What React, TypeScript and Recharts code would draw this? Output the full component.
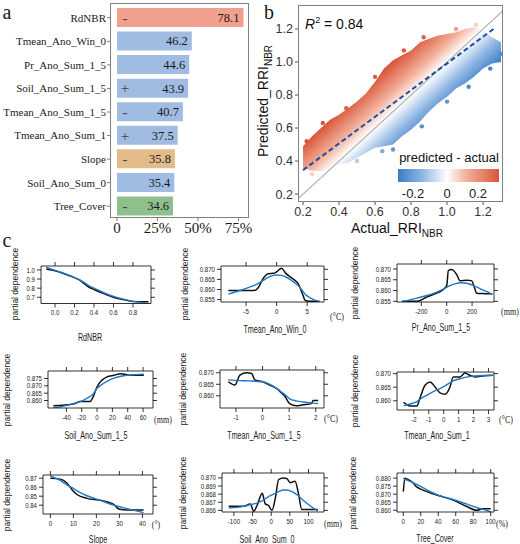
import React from 'react';
import {
  BarChart, Bar, XAxis, YAxis, LabelList, Cell,
  ComposedChart, Area, Line, Scatter, ReferenceLine, LineChart,
} from 'recharts';

const SERIF = '"Liberation Serif", "Times New Roman", serif';
const SANS = '"Liberation Sans", Arial, sans-serif';

// ---- panel a: variable importance ----
const features = ['RdNBR', 'Tmean_Ano_Win_0', 'Pr_Ano_Sum_1_5', 'Soil_Ano_Sum_1_5', 'Tmean_Ano_Sum_1_5', 'Tmean_Ano_Sum_1', 'Slope', 'Soil_Ano_Sum_0', 'Tree_Cover'];
const importance = [78.1, 46.2, 44.6, 43.9, 40.7, 37.5, 35.8, 35.4, 34.6];
const effectSign = ['-', '', '', '+', '-', '+', '-', '', '-'];
const featureGroup = ['fire', 'climate', 'climate', 'climate', 'climate', 'climate', 'topo', 'climate', 'veg'];
const importanceTicks = [0, 25, 50, 75];

// ---- panel b: predicted vs actual ----
const bandX = [0.2, 0.25, 0.3, 0.35, 0.4, 0.45, 0.5, 0.55, 0.6, 0.65, 0.7, 0.75, 0.8, 0.85, 0.9, 0.95, 1.0, 1.05, 1.1, 1.15, 1.2, 1.25, 1.3];
const bandLow = [0.36, 0.34, 0.34, 0.36, 0.38, 0.39, 0.42, 0.45, 0.48, 0.49, 0.5, 0.55, 0.59, 0.64, 0.7, 0.75, 0.79, 0.84, 0.87, 0.91, 0.96, 0.99, 1.0];
const bandHigh = [0.49, 0.55, 0.6, 0.65, 0.68, 0.72, 0.76, 0.81, 0.88, 0.96, 1.01, 1.04, 1.07, 1.12, 1.14, 1.16, 1.17, 1.18, 1.2, 1.21, 1.19, 1.15, 1.12];
const edgeX = [0.22, 0.31, 0.44, 0.6, 0.76, 0.87, 1.05, 1.16, 0.25, 0.29, 0.5, 0.64, 0.7, 0.86, 1.0, 1.12, 1.24, 1.3];
const edgeY = [0.52, 0.63, 0.72, 0.91, 1.07, 1.15, 1.2, 1.225, 0.32, 0.31, 0.4, 0.46, 0.47, 0.61, 0.76, 0.85, 0.96, 1.05];
const fitX = [0.2, 1.265];
const fitY = [0.345, 1.205];
const actualTicks = [0.2, 0.4, 0.6, 0.8, 1.0, 1.2];
const residTicks = ['-0.2', '0', '0.2'];

// ---- panel c: partial dependence ----
const rdnbrX = [-0.09, 0, 0.1, 0.2, 0.25, 0.3, 0.35, 0.4, 0.5, 0.6, 0.7, 0.8, 0.9, 0.96];
const rdnbrPD = [1.01, 0.99, 0.955, 0.915, 0.89, 0.85, 0.81, 0.785, 0.74, 0.7, 0.675, 0.655, 0.65, 0.65];
const rdnbrFit = [1.03, 0.995, 0.96, 0.915, 0.89, 0.86, 0.825, 0.8, 0.75, 0.71, 0.68, 0.655, 0.64, 0.628];

const tWinX = [-7.9, -6, -4, -3.5, -3, -2.2, -1.4, -0.5, 0, 0.8, 1.5, 2.2, 3, 3.5, 4.2, 4.7, 5.4, 7.0];
const tWinPD = [0.8595, 0.8595, 0.8595, 0.8596, 0.861, 0.8655, 0.8678, 0.868, 0.8688, 0.8705, 0.868, 0.8663, 0.8645, 0.863, 0.858, 0.8545, 0.8542, 0.8542];
const tWinFit = [0.8577, 0.8595, 0.8617, 0.8622, 0.863, 0.8645, 0.866, 0.867, 0.8672, 0.867, 0.8662, 0.865, 0.8632, 0.862, 0.8595, 0.8575, 0.856, 0.8538];

const prX = [-353, -300, -235, -157, -78, -39, 0, 13, 39, 78, 105, 157, 196, 222, 235, 280, 340, 360];
const prPD = [0.855, 0.855, 0.855, 0.857, 0.8588, 0.86, 0.8623, 0.8692, 0.8698, 0.8675, 0.8646, 0.8648, 0.8646, 0.8608, 0.8588, 0.8586, 0.8585, 0.8584];
const prFit = [0.8548, 0.8555, 0.8565, 0.8577, 0.8593, 0.8603, 0.8615, 0.8619, 0.8626, 0.8633, 0.8636, 0.8634, 0.8627, 0.862, 0.8617, 0.8604, 0.8588, 0.8582];

const soil15X = [-57, -45, -30, -22, -15, -9, -5, 0, 6.5, 13, 22, 31, 39, 50, 61];
const soil15PD = [0.8564, 0.8568, 0.8577, 0.8593, 0.8593, 0.8593, 0.8627, 0.8694, 0.8739, 0.8761, 0.8772, 0.8783, 0.8776, 0.8772, 0.8772];
const soil15Fit = [0.8549, 0.856, 0.858, 0.8593, 0.861, 0.8628, 0.8645, 0.8683, 0.871, 0.873, 0.8752, 0.8765, 0.8772, 0.8776, 0.8779];

const tSum15X = [-1.29, -1.04, -0.85, -0.6, -0.41, -0.29, 0, 0.27, 0.59, 0.65, 0.84, 1.02, 1.27, 1.52, 1.84, 1.9, 2.09];
const tSum15PD = [0.8661, 0.8647, 0.869, 0.87, 0.8697, 0.8669, 0.8661, 0.8647, 0.8626, 0.8619, 0.8598, 0.8566, 0.8557, 0.8561, 0.8566, 0.858, 0.858];
const tSum15Fit = [0.8669, 0.8667, 0.8666, 0.8665, 0.8664, 0.8663, 0.8661, 0.865, 0.8628, 0.8622, 0.8605, 0.8587, 0.8578, 0.8573, 0.8569, 0.8568, 0.8566];

const tSum1X = [-2.69, -2.25, -1.8, -1.58, -1.25, -0.91, -0.58, -0.25, 0.09, 0.42, 0.64, 1.09, 1.42, 1.75, 2.09, 2.7, 3.31];
const tSum1PD = [0.8594, 0.8581, 0.8581, 0.8612, 0.8657, 0.8669, 0.8651, 0.8629, 0.8624, 0.8651, 0.8688, 0.8688, 0.8702, 0.8694, 0.8688, 0.8692, 0.8694];
const tSum1Fit = [0.8581, 0.8588, 0.8597, 0.8606, 0.8617, 0.8627, 0.8637, 0.8645, 0.8655, 0.8666, 0.8673, 0.8681, 0.8686, 0.8689, 0.8691, 0.8693, 0.8694];

const slopeX = [0, 4.3, 7.2, 9.4, 11.6, 15.9, 21.7, 27.5, 29.7, 33.3, 40.5];
const slopePD = [0.87, 0.869, 0.8646, 0.8573, 0.8519, 0.8476, 0.8454, 0.841, 0.8357, 0.8346, 0.8346];
const slopeFit = [0.8725, 0.8675, 0.8627, 0.8595, 0.856, 0.8505, 0.8454, 0.84, 0.8385, 0.8362, 0.8317];

const soil0X = [-114, -74, -56, -47, -38, -24, -16, -7, 2, 11, 20, 33, 42, 51, 64, 73, 82, 125];
const soil0PD = [0.8665, 0.8665, 0.8668, 0.8659, 0.8666, 0.8681, 0.8668, 0.8666, 0.866, 0.8675, 0.8698, 0.87, 0.8699, 0.8694, 0.8696, 0.8681, 0.8661, 0.8661];
const soil0Fit = [0.8663, 0.8665, 0.8667, 0.8668, 0.8669, 0.8672, 0.8674, 0.8677, 0.8679, 0.8681, 0.8683, 0.8685, 0.8685, 0.8684, 0.8681, 0.8678, 0.8674, 0.8659];

const treeX = [0, 1.9, 5.7, 9.5, 15, 27, 42, 57, 72, 84, 91.5, 100];
const treePD = [0.8716, 0.88, 0.879, 0.8779, 0.8747, 0.8716, 0.8689, 0.8663, 0.8625, 0.86, 0.861, 0.861];
const treeFit = [0.88, 0.8794, 0.8785, 0.8776, 0.8762, 0.8727, 0.869, 0.8667, 0.864, 0.8617, 0.8605, 0.8589];

const groupColor: Record<string, string> = { fire: '#F0A08C', climate: '#A0BCE2', topo: '#E4BC8C', veg: '#8DC08D' };

// diverging colours for predicted - actual
const residStops: [number, string][] = [[-0.3, '#3a7cc7'], [-0.15, '#8fb6e3'], [0, '#ffffff'], [0.12, '#f2ae98'], [0.3, '#d9573a']];
const hex = (c: string) => [1, 3, 5].map((i) => parseInt(c.slice(i, i + 2), 16));
const resColor = (r: number) => {
  if (r <= residStops[0][0]) return residStops[0][1];
  for (let i = 1; i < residStops.length; i++) {
    const [r1, c1] = residStops[i];
    const [r0, c0] = residStops[i - 1];
    if (r <= r1) {
      const t = (r - r0) / (r1 - r0);
      const a = hex(c0), b = hex(c1);
      return `rgb(${a.map((v, k) => Math.round(v + (b[k] - v) * t)).join(',')})`;
    }
  }
  return residStops[residStops.length - 1][1];
};

const Txt = ({ x, y, size = 10, family = SANS, squeeze = 1, rotate = 0, color = '#1a1a1a', children, style = {} }: any) => (
  <div style={{
    position: 'absolute', left: x, top: y, whiteSpace: 'nowrap', fontSize: size, fontFamily: family, lineHeight: 1, color,
    transform: `translate(-50%,-50%) rotate(${rotate}deg) scaleX(${squeeze})`, ...style,
  }}>{children}</div>
);

const ImportancePanel = () => {
  const rows = features.map((f, i) => ({ name: f, value: importance[i], sign: effectSign[i], group: featureGroup[i] }));
  const valueLabel = (p: any) => (
    <text x={p.x + p.width - 4} y={p.y + p.height / 2} dy="0.35em" textAnchor="end" fontFamily={SERIF} fontSize={12.5} fill="#1a1a1a">
      {Number(p.value).toFixed(1)}
    </text>
  );
  const signLabel = (p: any) => (p.value ? (
    <text x={p.x + 8} y={p.y + p.height / 2} dy="0.35em" textAnchor="middle" fontFamily={SERIF} fontSize={15} fill="#444">{p.value}</text>
  ) : <g />);
  return (
    <div style={{ position: 'absolute', left: 0, top: 0 }}>
      <BarChart layout="vertical" width={260} height={240} data={rows} margin={{ top: 3, right: 11, bottom: 0, left: 0 }} barSize={19}>
        <XAxis type="number" domain={[-4.3, 81.5]} allowDataOverflow ticks={importanceTicks} interval={0} height={22} tickSize={3} tickMargin={1}
          axisLine={false} stroke="#7f7f7f" tickFormatter={(v) => (v === 0 ? '0' : `${v}%`)}
          tick={{ fontFamily: SERIF, fontSize: 15, fill: '#1a1a1a' }} />
        <YAxis type="category" dataKey="name" width={110} interval={0} tickSize={3} tickMargin={1} axisLine={false} stroke="#7f7f7f"
          padding={{ top: 3, bottom: 0 }} tick={{ fontFamily: SERIF, fontSize: 11, fill: '#1a1a1a' }} />
        <Bar dataKey="value" isAnimationActive={false}>
          {rows.map((r, i) => <Cell key={i} fill={groupColor[r.group]} />)}
          <LabelList dataKey="value" content={valueLabel} />
          <LabelList dataKey="sign" content={signLabel} />
        </Bar>
      </BarChart>
      <div style={{ position: 'absolute', left: 110, top: 3, width: 139, height: 215, border: '1.3px solid #808080', boxSizing: 'border-box' }} />
      <Txt x={7} y={12} size={20} family={SERIF}>a</Txt>
    </div>
  );
};

const ScatterPanel = () => {
  const W = 280, H = 240, M = { top: 5, right: 17, bottom: 0, left: 0 }, YW = 58, XH = 38;
  const xDom = [0.172, 1.311], yDom = [0.152, 1.345];
  const pw = W - M.right - YW, ph = H - M.top - XH;
  const kx = pw / (xDom[1] - xDom[0]), ky = ph / (yDom[1] - yDom[0]);
  const px = (x: number) => YW + (x - xDom[0]) * kx;
  const py = (y: number) => M.top + (yDom[1] - y) * ky;
  const norm = Math.hypot(kx, ky);
  const ux = -ky / norm, uy = -kx / norm;
  const per = (kx * ky) / norm;
  const cx = px(0.75), cy = py(0.75);
  const band = bandX.map((x, i) => ({ x, band: [bandLow[i], bandHigh[i]] }));
  const edges = edgeX.map((x, i) => ({ x, y: edgeY[i] }));
  const fit = fitX.map((x, i) => ({ x, y: fitY[i] }));
  const dot = (p: any) => <circle cx={p.cx} cy={p.cy} r={2.2} fill={resColor(p.payload.y - p.payload.x)} />;
  const tick = { fontFamily: SANS, fontSize: 12.5, fill: '#333' };
  return (
    <div style={{ position: 'absolute', left: 240, top: 0 }}>
      <ComposedChart width={W} height={H} margin={M}>
        <defs>
          <linearGradient id="residGrad" gradientUnits="userSpaceOnUse"
            x1={cx - ux * per * 0.3} y1={cy - uy * per * 0.3} x2={cx + ux * per * 0.3} y2={cy + uy * per * 0.3}>
            {residStops.map(([r, c]) => <stop key={r} offset={(r + 0.3) / 0.6} stopColor={c} />)}
          </linearGradient>
        </defs>
        <XAxis dataKey="x" type="number" domain={xDom} allowDataOverflow ticks={actualTicks} interval={0} height={XH} tickSize={3} tickMargin={2}
          axisLine={false} stroke="#555" tick={tick} tickFormatter={(v) => v.toFixed(1)} />
        <YAxis type="number" domain={yDom} allowDataOverflow ticks={actualTicks} interval={0} width={YW} tickSize={3} tickMargin={2}
          axisLine={false} stroke="#555" tick={tick} tickFormatter={(v) => v.toFixed(1)} />
        <Area data={band} dataKey="band" type="linear" stroke="none" fill="url(#residGrad)" fillOpacity={1} isAnimationActive={false} />
        <Scatter data={edges} dataKey="y" shape={dot} isAnimationActive={false} />
        <ReferenceLine segment={[{ x: xDom[0], y: xDom[0] }, { x: xDom[1], y: xDom[1] }]} stroke="#b0b0b0" strokeWidth={1.2} ifOverflow="hidden" />
        <Line data={fit} dataKey="y" type="linear" stroke="#1d4f9c" strokeWidth={2} strokeDasharray="5 3" dot={false} isAnimationActive={false} />
      </ComposedChart>
      <div style={{ position: 'absolute', left: YW, top: M.top, width: pw, height: ph, border: '1.3px solid #808080', boxSizing: 'border-box' }} />
      <Txt x={29} y={12} size={20} family={SERIF}>b</Txt>
      <div style={{ position: 'absolute', left: 65, top: 15, fontFamily: SANS, fontSize: 14, color: '#111', whiteSpace: 'nowrap' }}>
        <i>R</i><sup style={{ fontSize: 9 }}>2</sup> = 0.84
      </div>
      <Txt x={23} y={101} size={14} rotate={-90} color="#111">
        Predicted_RRI<span style={{ fontSize: 10, position: 'relative', top: 4 }}>NBR</span>
      </Txt>
      <Txt x={157} y={228} size={14} color="#111">
        Actual_RRI<span style={{ fontSize: 10, position: 'relative', top: 4 }}>NBR</span>
      </Txt>
      <Txt x={209} y={157} size={13} color="#111">predicted - actual</Txt>
      <div style={{
        position: 'absolute', left: 158, top: 169, width: 101, height: 13,
        background: 'linear-gradient(to right, #3a7cc7 0%, #8fb6e3 24%, #ffffff 48.5%, #f2ae98 68%, #d9573a 100%)',
      }} />
      {residTicks.map((t, i) => (
        <Txt key={t} x={[173, 207, 238][i]} y={193} size={13} color="#222">{t}</Txt>
      ))}
    </div>
  );
};

const sqTick = (p: any, axis: 'x' | 'y', digits: number, size: number) => (
  <g transform={`translate(${p.x},${p.y})`}>
    <text transform={`scale(${6.1 / size},1)`} textAnchor={axis === 'x' ? 'middle' : 'end'} dy={axis === 'x' ? '0.71em' : '0.33em'}
      fontSize={size} fontFamily={SANS} fill="#222">{Number(p.payload.value).toFixed(digits)}</text>
  </g>
);
const noTick = () => <g />;

const pdLayout = [
  { left: 41, top: 265.5, w: 110, h: 37.5, xDom: [-0.144, 0.985], yDom: [0.632, 1.043], xTicks: [0, 0.2, 0.4, 0.6, 0.8], yTicks: [0.7, 0.8, 0.9, 1.0], xd: 1, yd: 1, fs: 8, title: 'RdNBR', tx: 90, ty: 337, unit: '', ux: 0, uy: 0, lx: 15 },
  { left: 221, top: 266, w: 103, h: 36, xDom: [-9.1, 7.75], yDom: [0.8538, 0.87165], xTicks: [-5, 0, 5], yTicks: [0.855, 0.86, 0.865, 0.87], xd: 0, yd: 3, fs: 8, title: 'Tmean_Ano_Win_0', tx: 275, ty: 329, unit: '(°C)', ux: 337, uy: 317, lx: 185 },
  { left: 397, top: 263.5, w: 97, h: 38, xDom: [-392, 373], yDom: [0.8547, 0.8723], xTicks: [-200, 0, 200], yTicks: [0.855, 0.86, 0.865, 0.87], xd: 0, yd: 3, fs: 8, title: 'Pr_Ano_Sum_1_5', tx: 441, ty: 327, unit: '(mm)', ux: 510, uy: 312, lx: 355 },
  { left: 48, top: 371, w: 105, h: 37, xDom: [-64, 73], yDom: [0.8549, 0.8801], xTicks: [-40, -20, 0, 20, 40, 60], yTicks: [0.86, 0.865, 0.87, 0.875], xd: 0, yd: 3, fs: 7.2, title: 'Soil_Ano_Sum_1_5', tx: 96, ty: 435, unit: '(mm)', ux: 163, uy: 420, lx: 7 },
  { left: 220, top: 370, w: 104, h: 38, xDom: [-1.6, 2.31], yDom: [0.8547, 0.8712], xTicks: [-1, 0, 1, 2], yTicks: [0.86, 0.865, 0.87], xd: 0, yd: 3, fs: 8, title: 'Tmean_Ano_Sum_1_5', tx: 264, ty: 435, unit: '(°C)', ux: 331, uy: 419, lx: 183 },
  { left: 397, top: 372, w: 97, h: 38, xDom: [-3.13, 3.37], yDom: [0.8566, 0.8706], xTicks: [-2, -1, 0, 1, 2, 3], yTicks: [0.86, 0.865, 0.87], xd: 0, yd: 3, fs: 8, title: 'Tmean_Ano_Sum_1', tx: 437, ty: 435, unit: '(°C)', ux: 506, uy: 420, lx: 355 },
  { left: 43, top: 475, w: 110, h: 39, xDom: [-3.2, 44.6], yDom: [0.8302, 0.8736], xTicks: [0, 10, 20, 30, 40], yTicks: [0.84, 0.85, 0.86, 0.87], xd: 0, yd: 2, fs: 8, title: 'Slope', tx: 98, ty: 539, unit: '(°)', ux: 156, uy: 525, lx: 7 },
  { left: 222, top: 473, w: 102, h: 39, xDom: [-132, 141.6], yDom: [0.8658, 0.8706], xTicks: [-100, -50, 0, 50, 100], yTicks: [0.866, 0.867, 0.868, 0.869, 0.87], xd: 0, yd: 3, fs: 7.6, title: 'Soil_Ano_Sum_0', tx: 267, ty: 539, unit: '(mm)', ux: 333, uy: 524, lx: 183 },
  { left: 397, top: 473, w: 97, h: 39, xDom: [-7.2, 103.8], yDom: [0.8589, 0.8832], xTicks: [0, 20, 40, 60, 80, 100], yTicks: [0.86, 0.865, 0.87, 0.875, 0.88], xd: 0, yd: 3, fs: 7.6, title: 'Tree_Cover', tx: 435, ty: 538, unit: '(%)', ux: 502, uy: 524, lx: 353 },
];
const pdSeries = [
  [rdnbrX, rdnbrPD, rdnbrFit], [tWinX, tWinPD, tWinFit], [prX, prPD, prFit],
  [soil15X, soil15PD, soil15Fit], [tSum15X, tSum15PD, tSum15Fit], [tSum1X, tSum1PD, tSum1Fit],
  [slopeX, slopePD, slopeFit], [soil0X, soil0PD, soil0Fit], [treeX, treePD, treeFit],
];

const PDPanel = ({ lay, xs, pd, fit }: any) => {
  const ML = 34, MR = 6, MT = 6, MB = 20, EDGE = 4;
  const pts = xs.map((x: number, i: number) => ({ x, pd: pd[i], fit: fit[i] }));
  const ax = { stroke: '#000', strokeWidth: 0.8 };
  return (
    <>
      <div style={{ position: 'absolute', left: lay.left - ML, top: lay.top - MT }}>
        <LineChart width={lay.w + ML + MR} height={lay.h + MT + MB} data={pts}
          margin={{ top: MT - EDGE, right: MR - EDGE, bottom: 0, left: 0 }}>
          <XAxis xAxisId="b" dataKey="x" type="number" domain={lay.xDom} allowDataOverflow ticks={lay.xTicks} interval={0} height={MB}
            tickSize={4} tickMargin={2} axisLine={ax} tickLine={ax} tick={(p: any) => sqTick(p, 'x', lay.xd, 8)} />
          <XAxis xAxisId="t" orientation="top" dataKey="x" type="number" domain={lay.xDom} allowDataOverflow ticks={lay.xTicks} interval={0}
            height={EDGE} tickSize={4} tickMargin={0} axisLine={ax} tickLine={ax} tick={noTick} />
          <YAxis yAxisId="l" type="number" domain={lay.yDom} allowDataOverflow ticks={lay.yTicks} interval={0} width={ML}
            tickSize={4} tickMargin={2} axisLine={ax} tickLine={ax} tick={(p: any) => sqTick(p, 'y', lay.yd, lay.fs)} />
          <YAxis yAxisId="r" orientation="right" type="number" domain={lay.yDom} allowDataOverflow ticks={lay.yTicks} interval={0}
            width={EDGE} tickSize={4} tickMargin={0} axisLine={ax} tickLine={ax} tick={noTick} />
          <Line xAxisId="t" yAxisId="r" dataKey="fit" stroke="none" dot={false} isAnimationActive={false} />
          <Line xAxisId="b" yAxisId="l" dataKey="pd" type="monotone" stroke="#111" strokeWidth={1.5} dot={false} isAnimationActive={false} />
          <Line xAxisId="b" yAxisId="l" dataKey="fit" type="monotone" stroke="#1f78c8" strokeWidth={1.4} dot={false} isAnimationActive={false} />
        </LineChart>
      </div>
      <Txt x={lay.tx} y={lay.ty} size={10.5} squeeze={0.68} color="#1a1a1a">{lay.title}</Txt>
      {lay.unit && <Txt x={lay.ux} y={lay.uy} size={10} family={SERIF} squeeze={0.8} color="#1a1a1a">{lay.unit}</Txt>}
      <Txt x={lay.lx} y={lay.top + lay.h / 2} size={8.5} rotate={-90} color="#1a1a1a">partial dependence</Txt>
    </>
  );
};

export default function App() {
  return (
    <div style={{ position: 'absolute', left: 0, top: 0, width: 520, height: 544, background: '#fff', overflow: 'hidden' }}>
      <ImportancePanel />
      <ScatterPanel />
      <Txt x={7} y={240} size={20} family={SERIF}>c</Txt>
      {pdLayout.map((lay, i) => (
        <PDPanel key={lay.title} lay={lay} xs={pdSeries[i][0]} pd={pdSeries[i][1]} fit={pdSeries[i][2]} />
      ))}
    </div>
  );
}
